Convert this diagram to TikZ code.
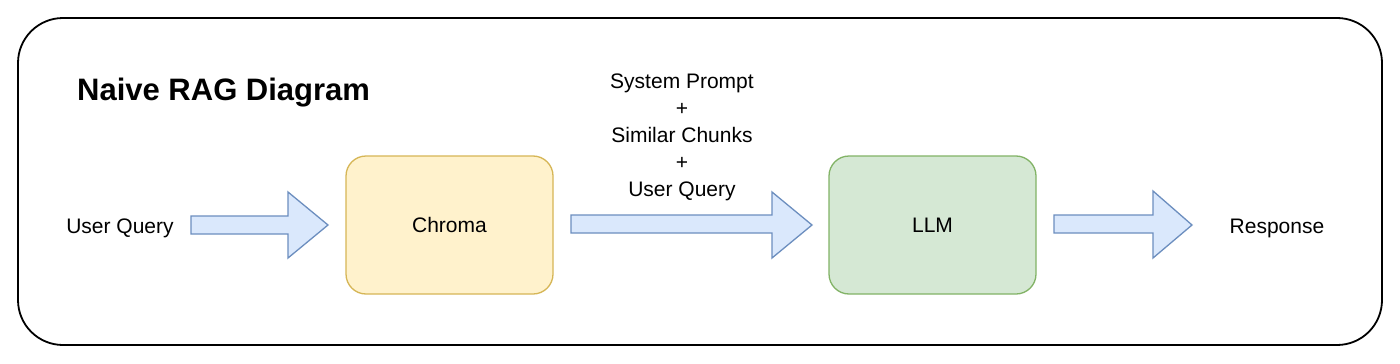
\documentclass[tikz,border=0pt]{standalone}
\usepackage{fontspec}
\setmainfont{Liberation Sans}
\begin{document}
\begin{tikzpicture}[x=1pt,y=-1pt,
  lbl/.style={font=\fontsize{21}{27}\selectfont, align=center, inner sep=0pt},
  procbox/.style={rounded corners=20pt, line width=1.3pt, minimum width=207pt, minimum height=138pt, font=\fontsize{21}{24}\selectfont},
  blockarrow/.style={fill=arrowfill, draw=arrowdraw, line width=1.3pt, line join=miter}
]
\definecolor{arrowfill}{HTML}{DAE8FC}
\definecolor{arrowdraw}{HTML}{6C8EBF}
\definecolor{chromafill}{HTML}{FFF2CC}
\definecolor{chromadraw}{HTML}{D6B656}
\definecolor{llmfill}{HTML}{D5E8D4}
\definecolor{llmdraw}{HTML}{82B366}
\useasboundingbox (0,0) rectangle (1400,364);
\fill[white] (0,0) rectangle (1400,364);
\draw[line width=1.8pt, rounded corners=45pt] (18,18) rectangle (1382,345);
\node[anchor=base west, inner sep=0pt, font=\bfseries\fontsize{31}{36}\selectfont] (title) at (77,100) {Naive RAG Diagram};
\node[procbox, fill=chromafill, draw=chromadraw] (chroma) at (449.5,225) {Chroma};
\node[procbox, fill=llmfill, draw=llmdraw] (llm) at (932.5,225) {LLM};
\node[lbl] (query) at (120,228) {User Query};
\node[lbl] (resp) at (1277,228) {Response};
\node[lbl] (ctx) at (682,137) {System Prompt\\+\\Similar Chunks\\+\\User Query};
% block arrows
\draw[blockarrow] (191,216) -- (288,216) -- (288,192) -- (328,225) -- (288,258) -- (288,234) -- (191,234) -- cycle;
\draw[blockarrow] (571,215) -- (772,215) -- (772,192) -- (812,225) -- (772,258) -- (772,233) -- (571,233) -- cycle;
\draw[blockarrow] (1054,215) -- (1153,215) -- (1153,191) -- (1192,225) -- (1153,258) -- (1153,233) -- (1054,233) -- cycle;
\end{tikzpicture}
\end{document}
